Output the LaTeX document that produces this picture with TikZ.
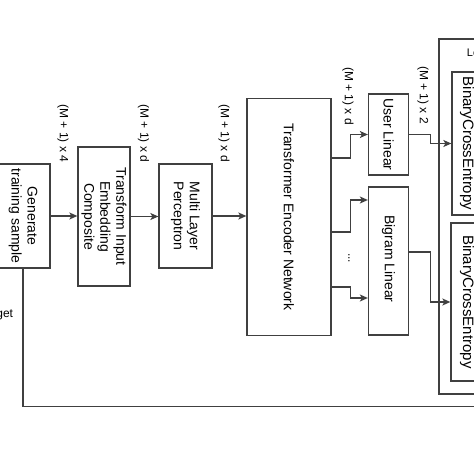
\documentclass[tikz,border=0pt]{standalone}
\usepackage{fontspec}
\setmainfont{Liberation Sans}
\usetikzlibrary{arrows.meta}

\begin{document}
\begin{tikzpicture}[x=1pt,y=-1pt,
  box/.style={draw=black!75,line width=1.3pt,rotate=-90,align=center,inner sep=0pt,font=\fontsize{14}{16}\selectfont},
  dimlbl/.style={rotate=-90,font=\fontsize{12}{14}\selectfont},
  arr/.style={draw=black!75,line width=1.3pt,-{Stealth[length=8pt,width=7pt,inset=2pt]}}]
\clip (0,0) rectangle (474,474);
\foreach \n/\x/\w/\h/\t in{
gen/{(23,216)}/104/54/{Generate\\training sample},
tic/{(104,216.5)}/139/52/{Transform Input\\Embedding\\Composite},
mlp/{(185.5,216)}/104/53/{Multi Layer\\Perceptron},
te/{(289,217)}/237/84/{Transformer Encoder Network},
ul/{(388.5,134.5)}/81/40/{User Linear},
bl/{(388.5,261)}/148/40/{Bigram Linear}
}
{
        \node[box,minimum width=\w pt,minimum height=\h pt] (\n) at \x {\t};
    }
\node[draw=black!75,line width=1.3pt,minimum width=79pt,minimum height=355pt] (loss) at (478.5,216.5) {};
\node[anchor=base,font=\fontsize{11}{13}\selectfont] (losslbl) at (478.5,56) {Loss};
\node[box,font=\fontsize{15}{17}\selectfont,minimum width=143pt,minimum height=30pt] (bce1) at (467,143.5) {BinaryCrossEntropy};
\node[box,font=\fontsize{15}{17}\selectfont,minimum width=158pt,minimum height=32pt] (bce2) at (467,302) {BinaryCrossEntropy};
\foreach \n/\x/\t in{
d1/{(63,133.5)}/{(M + 1) x 4},
d2/{(143.5,133.5)}/{(M + 1) x d},
d3/{(224,133)}/{(M + 1) x d},
d4/{(348,96)}/{(M + 1) x d},
d5/{(423,95)}/{(M + 1) x 2}
}
{
        \node[dimlbl] (\n) at \x {\t};
    }
\node[dimlbl] (dots) at (349,258) {...};
\draw[arr] (gen.north) -- (gen.north -| tic.south);
\draw[arr] (tic.north) -- (tic.north -| mlp.south);
\draw[arr] (mlp.north) -- (mlp.north -| te.south);
\draw[arr] ([yshift=59pt]te.north) -- ++(19,0) |- (ul.south);
\draw[arr] ([yshift=-15pt]te.north) -- ++(19,0) |- ([yshift=61pt]bl.south);
\draw[arr] ([yshift=-70pt]te.north) -- ++(19,0) |- ([yshift=-37pt]bl.south);
\draw[arr] (ul.north) -- ++(21.5,0) |- (bce1.south);
\draw[arr] ([yshift=9pt]bl.north) -- ++(21,0) |- (bce2.south);
\draw[arr] (gen.east) -- node[pos=.33,left=6pt,font=\fontsize{12}{14}\selectfont]{Target} ++(0,138) -| (loss.south);
\end{tikzpicture}
\end{document}
